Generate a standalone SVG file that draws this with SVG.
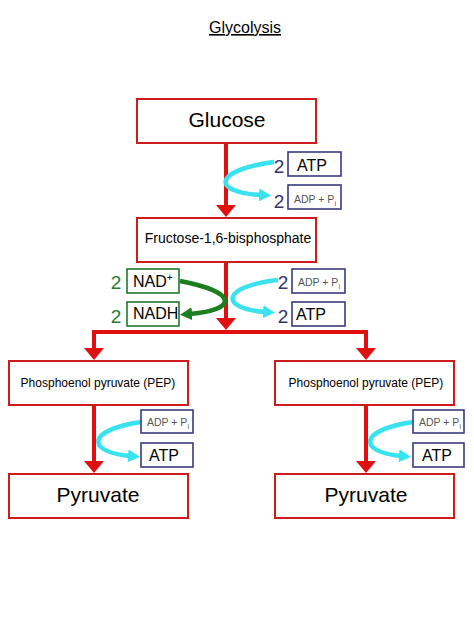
<svg xmlns="http://www.w3.org/2000/svg" width="474" height="632" viewBox="0 0 474 632">
<style>
text{font-family:"Liberation Sans",Arial,sans-serif;fill:#000}
.rbox{fill:#fff;stroke:#cc1c1c;stroke-width:2}
.bbox{fill:#fff;stroke:#3a3a80;stroke-width:1.6}
.gbox{fill:#fff;stroke:#1f7a2a;stroke-width:1.6}
.red{stroke:#e01010;stroke-width:4;fill:none}
.cyan{stroke:#38e2ee;stroke-width:4.5;fill:none}
.green{stroke:#1b7f1f;stroke-width:4.5;fill:none}
.n2b{font-size:19px;fill:#33336e}
.n2g{font-size:19px;fill:#2a7a30}
.adp{font-size:10.5px;fill:#555}
.atp{font-size:16px}
.pep{font-size:12px}
.big{font-size:21px}
</style>
<defs>
<marker id="ar" markerUnits="userSpaceOnUse" markerWidth="12" markerHeight="20" refX="2" refY="10" orient="auto"><path d="M0,0 L12,10 L0,20 z" fill="#e01010"/></marker>
<marker id="ac" markerUnits="userSpaceOnUse" markerWidth="12" markerHeight="13" refX="2" refY="6.5" orient="auto"><path d="M0,0 L12,6.5 L0,13 z" fill="#38e2ee"/></marker>
<marker id="ag" markerUnits="userSpaceOnUse" markerWidth="12" markerHeight="13" refX="2" refY="6.5" orient="auto"><path d="M0,0 L12,6.5 L0,13 z" fill="#1b7f1f"/></marker>
</defs>
<rect width="474" height="632" fill="#fff"/>
<text x="245" y="33" font-size="16" text-anchor="middle" text-decoration="underline">Glycolysis</text>
<g id="connectors">
<line class="red" x1="226" y1="143" x2="226" y2="207" marker-end="url(#ar)"/>
<line class="red" x1="226" y1="262" x2="226" y2="320" marker-end="url(#ar)"/>
<polyline class="red" points="94,350 94,332 366,332 366,350"/>
<line class="red" x1="94" y1="340" x2="94" y2="350" marker-end="url(#ar)"/>
<line class="red" x1="366" y1="340" x2="366" y2="350" marker-end="url(#ar)"/>
<line class="red" x1="94" y1="405" x2="94" y2="463" marker-end="url(#ar)"/>
<line class="red" x1="366" y1="405" x2="366" y2="463" marker-end="url(#ar)"/>
<path class="cyan" d="M274,162 C214,170 210,192 261,195" marker-end="url(#ac)"/>
<path class="green" d="M180,281 C238,292 238,310 190,314" marker-end="url(#ag)"/>
<path class="cyan" d="M278,280 C222,286 218,308 265,312" marker-end="url(#ac)"/>
<path class="cyan" d="M141,422 C86,430 86,452 130,456" marker-end="url(#ac)"/>
<path class="cyan" d="M413,422 C358,430 358,452 401,456" marker-end="url(#ac)"/>
</g>
<g id="glucose"><rect class="rbox" x="137" y="99" width="179" height="44"/><text class="big" x="227" y="127" text-anchor="middle">Glucose</text></g>
<g id="atp1"><text class="n2b" x="279" y="173" text-anchor="middle">2</text><rect class="bbox" x="288" y="152" width="53" height="24"/><text class="atp" x="297" y="171">ATP</text></g>
<g id="adp1"><text class="n2b" x="279" y="208" text-anchor="middle">2</text><rect class="bbox" x="288" y="185" width="53" height="24"/><text class="adp" x="294" y="203">ADP + P<tspan font-size="7" dy="3">i</tspan></text></g>
<g id="fructose"><rect class="rbox" x="137" y="218" width="179" height="44"/><text x="228" y="243" font-size="14" text-anchor="middle">Fructose-1,6-bisphosphate</text></g>
<g id="nad"><text class="n2g" x="116" y="289" text-anchor="middle">2</text><rect class="gbox" x="127" y="269" width="52" height="24"/><text class="atp" x="133" y="287">NAD<tspan font-size="10" dy="-6">+</tspan></text></g>
<g id="nadh"><text class="n2g" x="116" y="323" text-anchor="middle">2</text><rect class="gbox" x="127" y="302" width="52" height="24"/><text class="atp" x="133" y="319">NADH</text></g>
<g id="adp2"><text class="n2b" x="283" y="289" text-anchor="middle">2</text><rect class="bbox" x="292" y="269" width="53" height="24"/><text class="adp" x="298" y="286">ADP + P<tspan font-size="7" dy="3">i</tspan></text></g>
<g id="atp2"><text class="n2b" x="283" y="323" text-anchor="middle">2</text><rect class="bbox" x="292" y="302" width="53" height="24"/><text class="atp" x="296" y="320">ATP</text></g>
<g id="pepL"><rect class="rbox" x="9" y="361" width="179" height="44"/><text class="pep" x="98" y="387" text-anchor="middle">Phosphoenol pyruvate (PEP)</text></g>
<g id="adpL"><rect class="bbox" x="141" y="410" width="52" height="23"/><text class="adp" x="147" y="426">ADP + P<tspan font-size="7" dy="3">i</tspan></text></g>
<g id="atpL"><rect class="bbox" x="141" y="443" width="52" height="24"/><text class="atp" x="149" y="461">ATP</text></g>
<g id="pyrL"><rect class="rbox" x="9" y="474" width="179" height="44"/><text class="big" x="98" y="502" text-anchor="middle">Pyruvate</text></g>
<g id="pepR"><rect class="rbox" x="275" y="361" width="179" height="44"/><text class="pep" x="366" y="387" text-anchor="middle">Phosphoenol pyruvate (PEP)</text></g>
<g id="adpR"><rect class="bbox" x="413" y="410" width="51" height="23"/><text class="adp" x="419" y="426">ADP + P<tspan font-size="7" dy="3">i</tspan></text></g>
<g id="atpR"><rect class="bbox" x="413" y="443" width="51" height="24"/><text class="atp" x="422" y="461">ATP</text></g>
<g id="pyrR"><rect class="rbox" x="275" y="474" width="179" height="44"/><text class="big" x="366" y="502" text-anchor="middle">Pyruvate</text></g>
</svg>
